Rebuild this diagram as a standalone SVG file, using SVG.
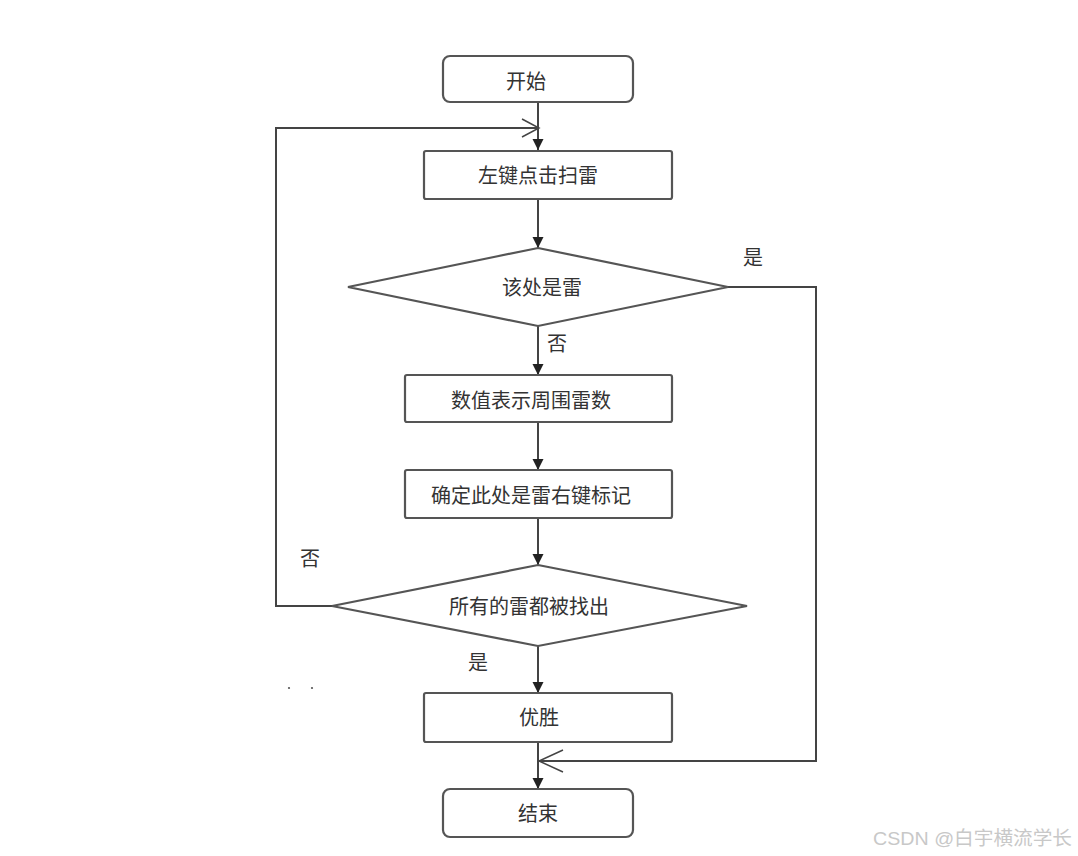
<svg xmlns="http://www.w3.org/2000/svg" width="1078" height="856" viewBox="0 0 1078 856">
<style>
  .box { fill: #ffffff; stroke: #555555; stroke-width: 2.2; }
  .lbl { font-family: "Noto Sans CJK SC", "Noto Sans", sans-serif; font-size: 20px; fill: #333333; text-anchor: middle; dominant-baseline: central; }
  .edge { fill: none; stroke: #444444; stroke-width: 2; }
  .open { fill: none; stroke: #444444; stroke-width: 1.5; }
  .wm { font-family: "Liberation Sans", "Noto Sans CJK SC", sans-serif; font-size: 19px; fill: #c8c8c8; }
</style>
<defs>
  <marker id="arr" markerWidth="13" markerHeight="13" refX="11" refY="5.5" orient="auto" markerUnits="userSpaceOnUse">
    <path d="M0,0 L11,5.5 L0,11 Z" fill="#222222"/>
  </marker>
</defs>
<rect width="1078" height="856" fill="#ffffff"/>

<g id="connectors">
  <line class="edge" x1="538" y1="103" x2="538" y2="150" marker-end="url(#arr)"/>
  <line class="edge" x1="538" y1="199" x2="538" y2="248" marker-end="url(#arr)"/>
  <line class="edge" x1="538" y1="326" x2="538" y2="375" marker-end="url(#arr)"/>
  <line class="edge" x1="538" y1="422" x2="538" y2="470" marker-end="url(#arr)"/>
  <line class="edge" x1="538" y1="518" x2="538" y2="565" marker-end="url(#arr)"/>
  <line class="edge" x1="538" y1="646" x2="538" y2="693" marker-end="url(#arr)"/>
  <line class="edge" x1="538" y1="742" x2="538" y2="789" marker-end="url(#arr)"/>
  <polyline class="edge" points="332,606 276,606 276,128 538,128"/>
  <polyline class="open" points="522,119 539,128 522,137"/>
  <polyline class="edge" points="728,287 816,287 816,761 538,761"/>
  <polyline class="open" points="563,750 539,761 563,772"/>
  <circle cx="289" cy="688" r="1.1" fill="#555555"/>
  <circle cx="312" cy="688" r="1.1" fill="#555555"/>
</g>

<g id="start">
  <rect class="box" x="443" y="56" width="190" height="46" rx="7"/>
  <text class="lbl" x="526" y="80">开始</text>
</g>
<g id="leftclick">
  <rect class="box" x="424" y="151" width="248" height="48" rx="2"/>
  <text class="lbl" x="538" y="174">左键点击扫雷</text>
</g>
<g id="ismine">
  <polygon class="box" points="538,248 728,287 538,326 348,287"/>
  <text class="lbl" x="542" y="286">该处是雷</text>
</g>
<g id="shownumber">
  <rect class="box" x="405" y="375" width="267" height="47" rx="2"/>
  <text class="lbl" x="531" y="399">数值表示周围雷数</text>
</g>
<g id="markmine">
  <rect class="box" x="405" y="470" width="267" height="48" rx="2"/>
  <text class="lbl" x="531" y="494">确定此处是雷右键标记</text>
</g>
<g id="allfound">
  <polygon class="box" points="538,565 747,606 538,646 332,606"/>
  <text class="lbl" x="529" y="605">所有的雷都被找出</text>
</g>
<g id="win">
  <rect class="box" x="424" y="693" width="248" height="49" rx="2"/>
  <text class="lbl" x="539" y="716">优胜</text>
</g>
<g id="end">
  <rect class="box" x="443" y="789" width="190" height="48" rx="7"/>
  <text class="lbl" x="538" y="812">结束</text>
</g>

<g id="edge-labels">
  <text class="lbl" x="753" y="256">是</text>
  <text class="lbl" x="557" y="342">否</text>
  <text class="lbl" x="310" y="557">否</text>
  <text class="lbl" x="478" y="661">是</text>
</g>

<text class="wm" x="873" y="845" textLength="199" lengthAdjust="spacingAndGlyphs">CSDN @白宇横流学长</text>
</svg>
